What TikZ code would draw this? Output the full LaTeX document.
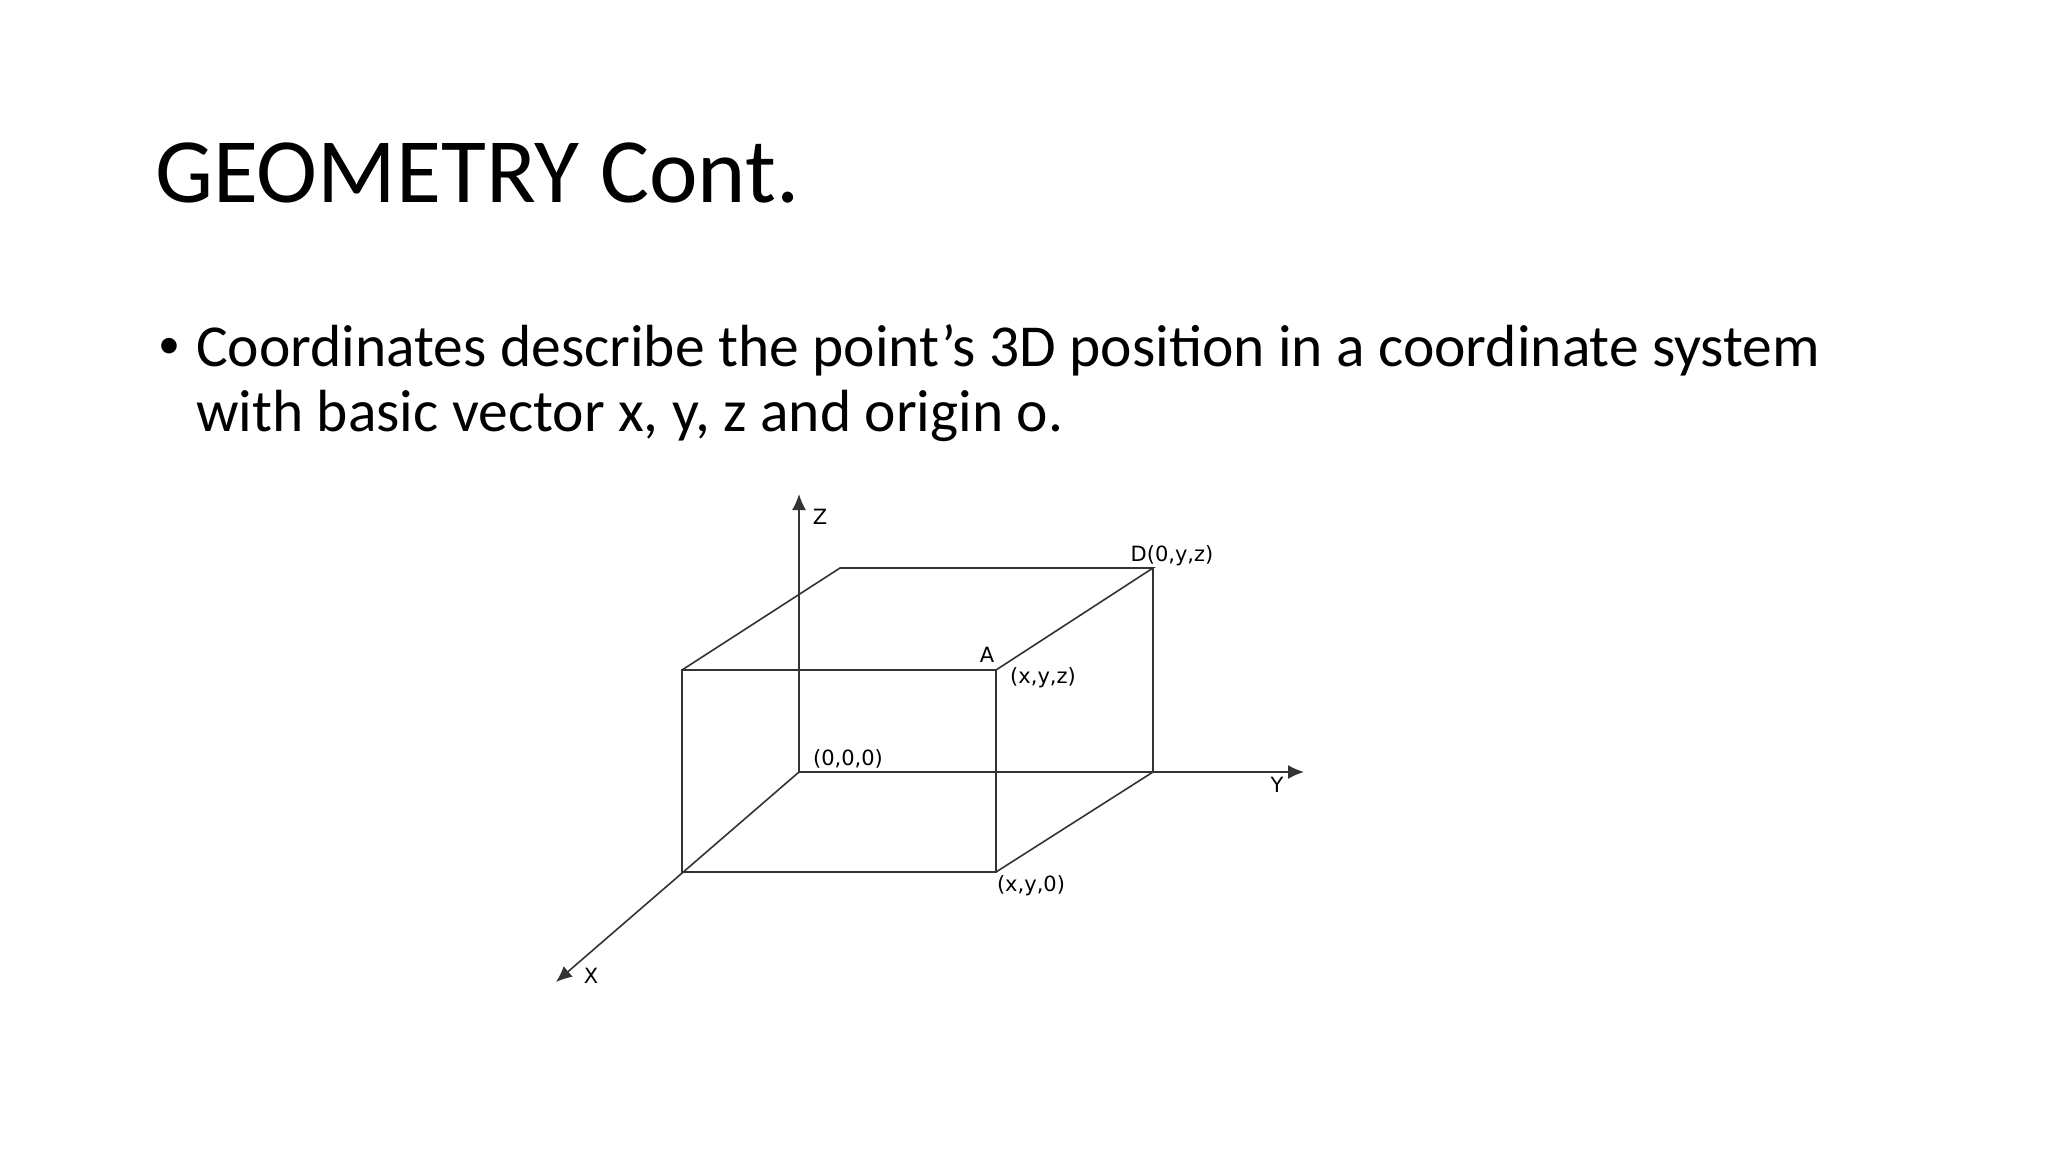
\documentclass[tikz,border=0pt]{standalone}
\usepackage{fontspec}
\setmainfont{Carlito}
\newfontfamily\lblfont{DejaVu Sans}
\usetikzlibrary{arrows.meta}
\begin{document}
\begin{tikzpicture}[x=1pt,y=-1pt,
  edge/.style={draw=black!80,line width=1.6pt},
  axis/.style={edge,-{Latex[length=16pt,width=14pt]}},
  lbl/.style={font=\lblfont\fontsize{21}{21}\selectfont,inner sep=0pt},
  bodyf/.style={anchor=base west,inner sep=0pt,font=\fontsize{59.5}{60}\selectfont}]
\useasboundingbox[fill=white] (0,0) rectangle (2048,1152);
\node[anchor=base west,inner sep=0pt,font=\fontsize{92}{92}\selectfont] (title) at (155,202) {GEOMETRY Cont.};
\node[anchor=base west,inner sep=0pt,font=\fontsize{44}{44}\selectfont] (bul) at (158,358) {•};
\node[bodyf] (body1) at (196,366) {Coordinates describe the point’s 3D position in a coordinate system};
\node[bodyf] (body2) at (196,431) {with basic vector x, y, z and origin o.};
\coordinate (O) at (799,772);
\coordinate (Zt) at (799,494);
\coordinate (Ye) at (1304,772);
\coordinate (Xe) at (556,982);
\coordinate (P1) at (682,872);
\coordinate (P2) at (996,872);
\coordinate (P3) at (682,670);
\coordinate (A) at (996,670);
\coordinate (P4) at (840,568);
\coordinate (D) at (1153,568);
\coordinate (P5) at (1153,772);
\draw[axis] (O) -- (Zt);
\draw[axis] (O) -- (Ye);
\draw[axis] (O) -- (Xe);
\draw[edge] (P1) -- (P2) -- (A) -- (P3) -- cycle;
\draw[edge] (P3) -- (P4) -- (D) -- (A);
\draw[edge] (D) -- (P5) -- (P2);
\node[lbl] (lz) at (820,517) {Z};
\node[lbl] (ld) at (1172,556) {D(0,y,z)};
\node[lbl] (la) at (987,655) {A};
\node[lbl] (lxyz) at (1043,678) {(x,y,z)};
\node[lbl] (lo) at (848,759) {(0,0,0)};
\node[lbl] (ly) at (1277,785) {Y};
\node[lbl] (lxy0) at (1031,886) {(x,y,0)};
\node[lbl] (lx) at (591,976) {X};
\end{tikzpicture}
\end{document}
